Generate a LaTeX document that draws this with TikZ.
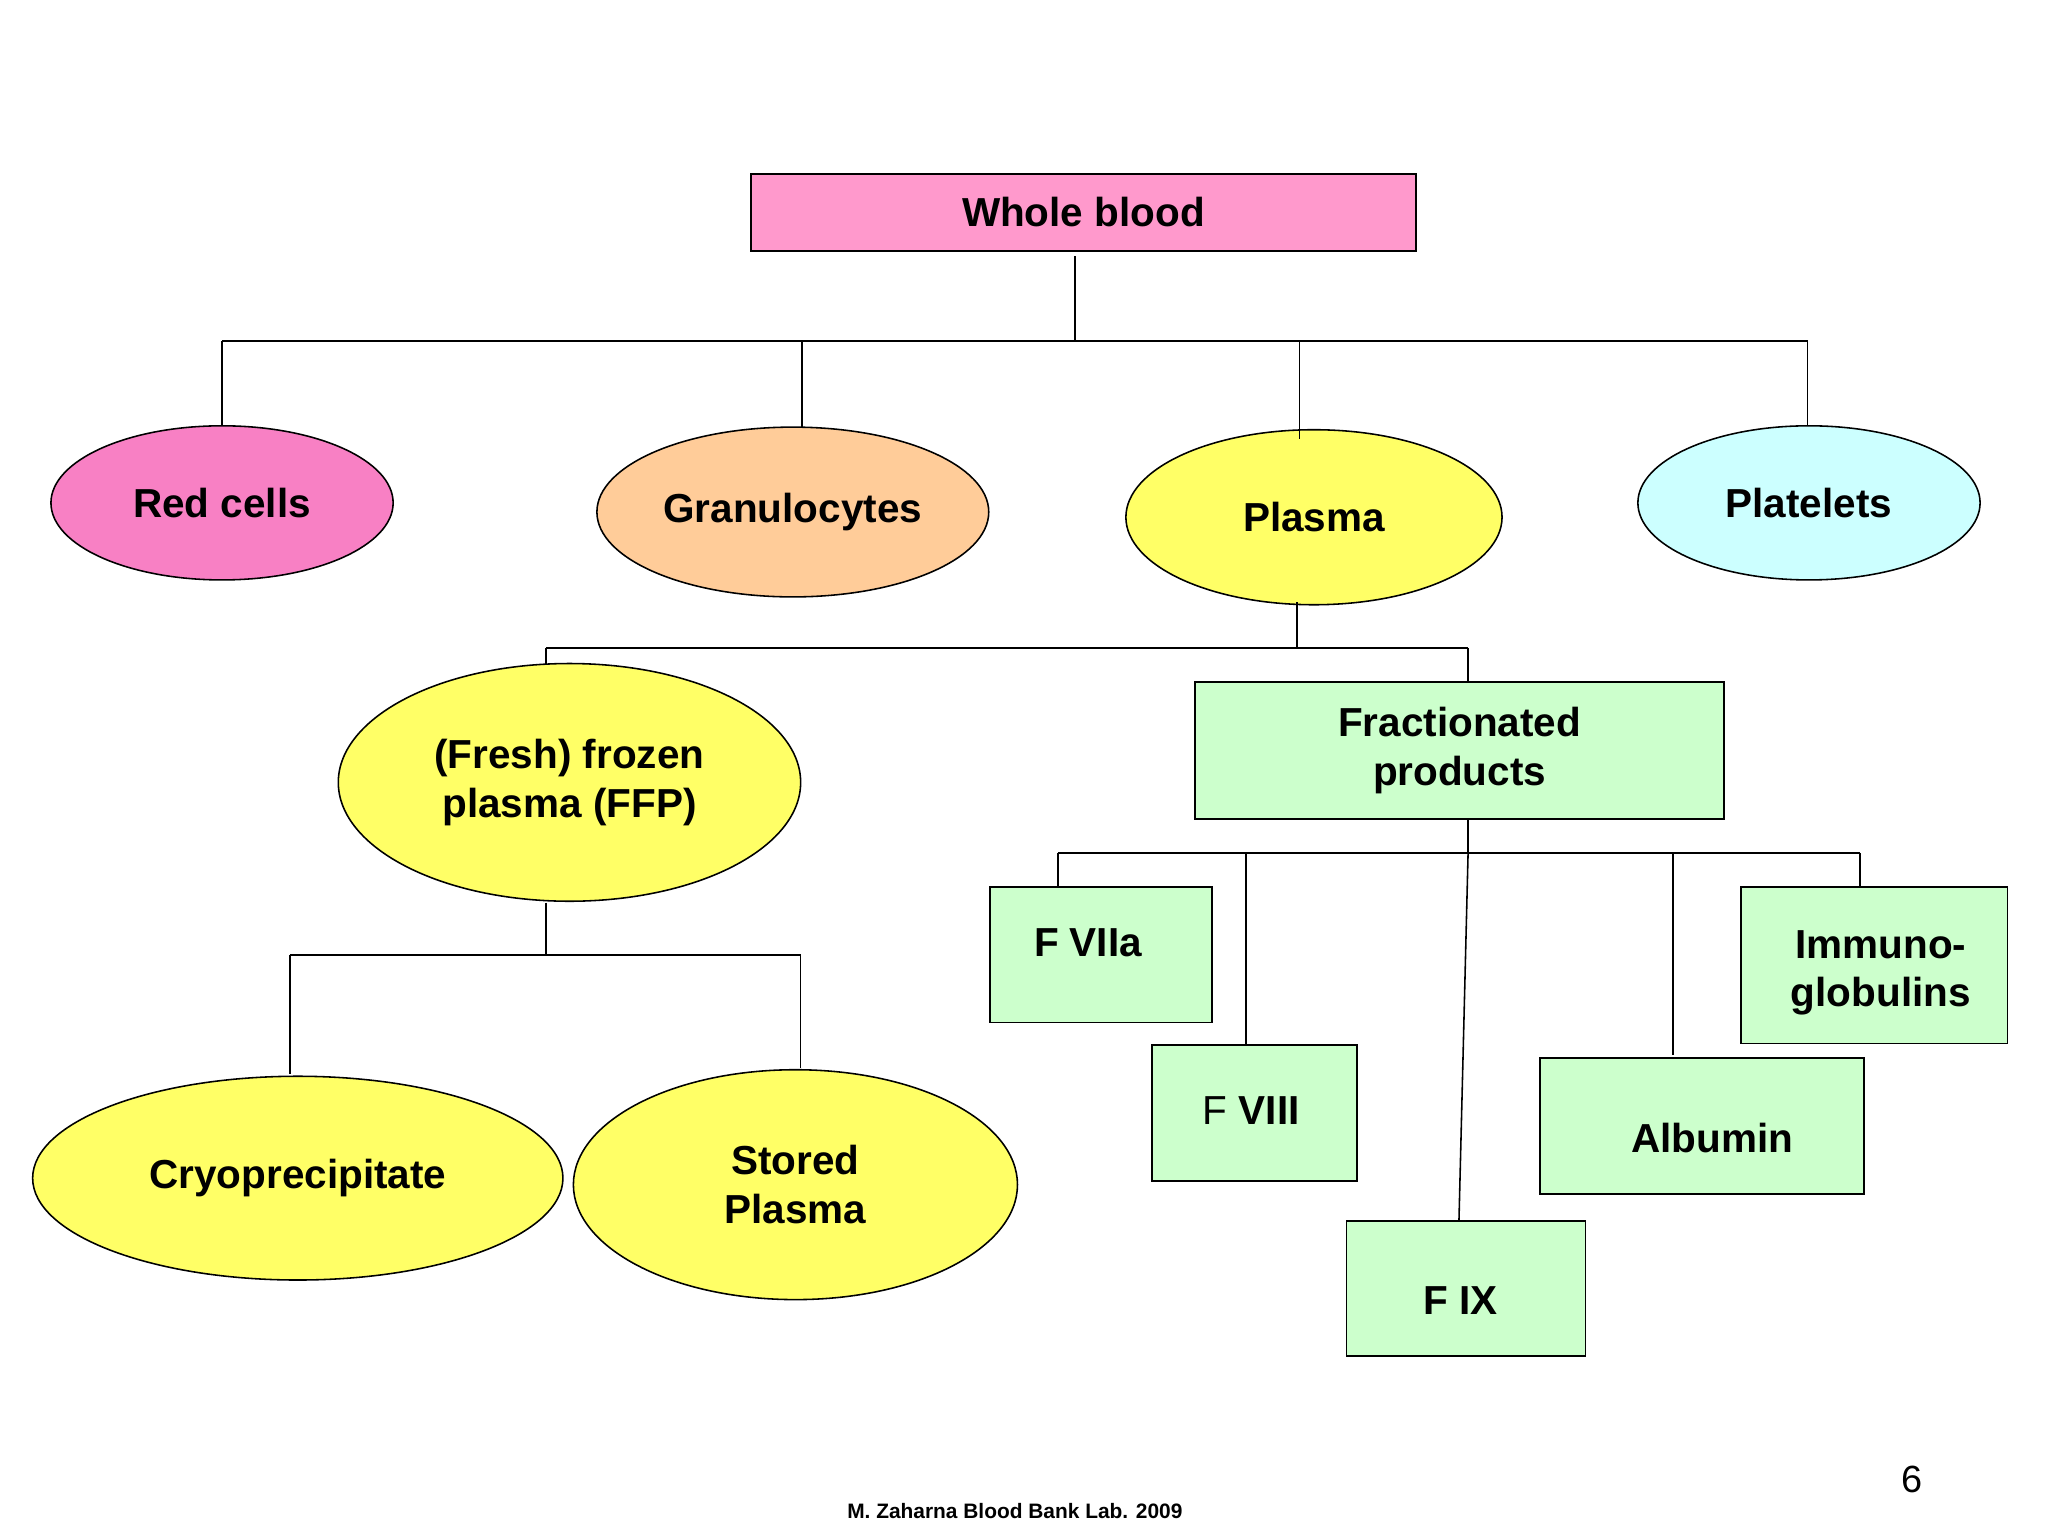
\documentclass[tikz,border=0pt]{standalone}
\usepackage{fontspec}
\setmainfont{Liberation Sans}
\usetikzlibrary{shapes.geometric}
\definecolor{wb}{HTML}{FF99CC}
\definecolor{rc}{HTML}{F880C4}
\definecolor{gr}{HTML}{FFCC99}
\definecolor{py}{HTML}{FFFF66}
\definecolor{pl}{HTML}{CCFFFF}
\definecolor{gn}{HTML}{CCFFCC}
\begin{document}
\begin{tikzpicture}[x=1pt,y=-1pt,
  lab/.style={font=\fontsize{31}{37}\selectfont\bfseries,align=center},
  ell/.style={ellipse,draw,line width=1.2pt,lab},
  box/.style={rectangle,draw,line width=1.2pt,lab},
  ln/.style={line width=1.2pt}]
\fill[white] (0,0) rectangle (1568,1176);
\useasboundingbox (0,0) rectangle (1568,1176);
% nodes
\node[box,fill=wb,minimum width=509pt,minimum height=59pt] (wb) at (829.5,162.5) {Whole blood};
\node[ell,fill=rc,minimum width=262pt,minimum height=118pt] (rc) at (170,385) {Red cells};
\node[ell,fill=gr,minimum width=300pt,minimum height=130pt] (gr) at (607,392) {Granulocytes};
\node[ell,fill=py,minimum width=288pt,minimum height=134pt] (pm) at (1006,396) {Plasma};
\node[ell,fill=pl,minimum width=262pt,minimum height=118pt] (pt) at (1385,385) {Platelets};
\node[ell,fill=py,minimum width=354pt,minimum height=182pt] (ffp) at (436,599) {(Fresh) frozen\\plasma (FFP)};
\node[box,fill=gn,minimum width=405pt,minimum height=105pt] (fr) at (1117.5,574.5) {Fractionated\\products};
\node[ell,fill=py,minimum width=406pt,minimum height=156pt] (cr) at (228,902) {Cryoprecipitate};
\node[ell,fill=py,minimum width=340pt,minimum height=176pt] (st) at (609,907) {Stored\\Plasma};
\node[box,fill=gn,minimum width=170pt,minimum height=104pt] (f7) at (843,731) {};
\node[lab] at (833,722) {F VIIa};
\node[box,fill=gn,minimum width=157pt,minimum height=104pt] (f8) at (960.5,852) {};
\node[lab] at (958,850) {\mdseries F \bfseries VIII};
\node[box,fill=gn,minimum width=183pt,minimum height=103pt] (f9) at (1122.5,986.5) {};
\node[lab] at (1118,996) {F IX};
\node[box,fill=gn,minimum width=248pt,minimum height=104pt] (al) at (1303,862) {};
\node[lab] at (1311,871) {Albumin};
\node[box,fill=gn,minimum width=204pt,minimum height=120pt] (im) at (1435,739) {};
\node[lab] at (1440,745) {Immuno-\\globulins};
% connectors
\coordinate (h1) at (823,261);
\draw[ln] (823,196) -- (h1);
\draw[ln] (170,261) -- (1384,261);
\draw[ln] (170,261) -- (rc.north);
\draw[ln] (614,261) -- (614,327);
\draw[ln] (995,261) -- (995,336);
\draw[ln] (1384,261) -- (1384,326);
\draw[ln] (993,461) -- (993,496);
\draw[ln] (418,496) -- (1124,496);
\draw[ln] (418,496) -- (418,508);
\draw[ln] (1124,496) -- (1124,522);
\draw[ln] (418,691) -- (418,731);
\draw[ln] (222,731) -- (613,731);
\draw[ln] (222,731) -- (222,822);
\draw[ln] (613,731) -- (613,818);
\draw[ln] (1124,627) -- (1124,653);
\draw[ln] (810,653) -- (1424,653);
\draw[ln] (810,653) -- (810,679);
\draw[ln] (954,653) -- (954,800);
\draw[ln] (1124,653) -- (1117,935);
\draw[ln] (1281,653) -- (1281,808);
\draw[ln] (1424,653) -- (1424,679);
\node[font=\fontsize{16}{19}\selectfont\bfseries] (ft) at (777,1157) {M. Zaharna Blood Bank Lab. 2009};
\node[font=\fontsize{29}{34}\selectfont] (pg) at (1464,1133) {6};
\end{tikzpicture}
\end{document}
